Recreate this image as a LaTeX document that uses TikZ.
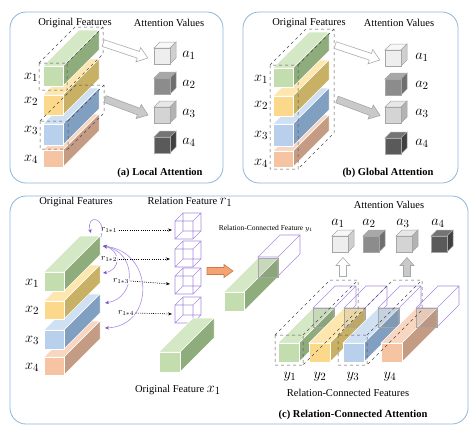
\documentclass[tikz,border=0pt]{standalone}
\usepackage{fontspec}
\setmainfont{Liberation Serif}
\usetikzlibrary{arrows.meta}
\definecolor{panel}{HTML}{8FB3D9}
\definecolor{gF}{HTML}{C3DDAE}\definecolor{gT}{HTML}{D5E8C5}\definecolor{gS}{HTML}{8FAD7C}
\definecolor{yF}{HTML}{FCD98A}\definecolor{yT}{HTML}{FDE7AE}\definecolor{yS}{HTML}{C8B064}
\definecolor{bF}{HTML}{B8D0EC}\definecolor{bT}{HTML}{D0E0F3}\definecolor{bS}{HTML}{819FC0}
\definecolor{oF}{HTML}{F6C3A3}\definecolor{oT}{HTML}{F9D6C0}\definecolor{oS}{HTML}{C49C84}
\definecolor{purp}{HTML}{A88CE0}\definecolor{purpd}{HTML}{7B52C6}
\definecolor{c1F}{HTML}{EEEEEE}\definecolor{c1T}{HTML}{F8F8F8}\definecolor{c1S}{HTML}{CFCFCF}
\definecolor{c2F}{HTML}{8C8C8C}\definecolor{c2T}{HTML}{A8A8A8}\definecolor{c2S}{HTML}{6E6E6E}
\definecolor{c3F}{HTML}{D4D4D4}\definecolor{c3T}{HTML}{E8E8E8}\definecolor{c3S}{HTML}{B3B3B3}
\definecolor{c4F}{HTML}{5A5A5A}\definecolor{c4T}{HTML}{747474}\definecolor{c4S}{HTML}{404040}
\definecolor{orA}{HTML}{F4A470}\definecolor{orB}{HTML}{C97A48}
% solid cuboid: x y w h depth front top side edge
\newcommand\bx[9]{%
 \filldraw[fill=#7,draw=#9,line width=0.5pt] (#1,#2) -- ++(#3,0) -- ++(#5,-#5) -- ++(-#3,0) -- cycle;
 \filldraw[fill=#8,draw=#9,line width=0.5pt] ({#1+#3},#2) -- ++(#5,-#5) -- ++(0,#4) -- ++(-#5,#5) -- cycle;
 \filldraw[fill=#6,draw=#9,line width=0.5pt] (#1,#2) rectangle ++(#3,#4);}
% visible edges of a cuboid: style x y w h depth
\newcommand\edgebox[6]{%
 \draw[#1] (#2,#3) rectangle ++(#4,#5)
   (#2,#3) -- ++(#6,-#6) -- ++(#4,0) -- ++(0,#5) -- ++(-#6,#6)
   ({#2+#4},#3) -- ++(#6,-#6);}
% full wireframe cuboid: x y size depth
\newcommand\fullbox[4]{%
 \draw[draw=purp,line width=0.6pt] (#1,#2) rectangle ++(#3,#3)
   ({#1+#4},{#2-#4}) rectangle ++(#3,#3)
   (#1,#2) -- ++(#4,-#4)
   ({#1+#3},#2) -- ++(#4,-#4)
   (#1,{#2+#3}) -- ++(#4,-#4)
   ({#1+#3},{#2+#3}) -- ++(#4,-#4);}
% block arrow: cx cy angle length shafthalf headhalf headlen style
\newcommand\barrow[8]{%
 \begin{scope}[shift={(#1,#2)},rotate=#3]
 \filldraw[#8] ({-#4/2},{-#5}) -- ({#4/2-#7},{-#5}) -- ({#4/2-#7},{-#6}) -- ({#4/2},0) -- ({#4/2-#7},{#6}) -- ({#4/2-#7},{#5}) -- ({-#4/2},{#5}) -- cycle;
 \end{scope}}
\begin{document}
\begin{tikzpicture}[x=1pt,y=-1pt,
 txt/.style={font=\fontsize{10.5}{12}\selectfont,inner sep=0pt},
 small/.style={font=\fontsize{7.5}{9}\selectfont,inner sep=0pt},
 ttl/.style={font=\fontsize{10.5}{12}\selectfont\bfseries,inner sep=0pt},
 lab/.style={font=\fontsize{15}{17}\selectfont,inner sep=0pt},
 rlab/.style={font=\fontsize{9}{10}\selectfont,inner sep=0.5pt,fill=white},
 pan/.style={draw=panel,line width=0.8pt,rounded corners=16pt},
 dbox/.style={dashed,draw=gray!60!black,line width=0.5pt},
 pbox/.style={draw=purp,line width=0.55pt},
 hollow/.style={fill=white,draw=gray!65,line width=0.6pt},
 grey/.style={fill=gray!42,draw=gray!70,line width=0.6pt},
 rel/.style={draw=purp,line width=0.6pt},
 dotar/.style={dash pattern=on 1pt off 1.2pt,line width=0.6pt,-{Stealth[length=4pt,width=3pt]}},
 ov/.style={fill=gray,fill opacity=0.15,draw=gray!70,line width=0.5pt}]
\useasboundingbox (0,0) rectangle (474,434);
% panels
\draw[pan] (10,12) rectangle (223,183);
\draw[pan] (243,12) rectangle (458,183);
\draw[pan] (10,196) rectangle (468,424);
%%%%%%%%%% (a)
\node[txt] (ta1) at (75,23) {Original Features};
\node[txt] (ta2) at (169,23) {Attention Values};
\bx{43}{150}{20}{17}{36}{oF}{oT}{oS}{white}
\bx{43}{124}{20}{21}{36}{bF}{bT}{bS}{white}
\bx{43}{95}{20}{20}{36}{yF}{yT}{yS}{white}
\bx{43}{66}{20}{20}{36}{gF}{gT}{gS}{white}
\edgebox{dbox}{39}{63}{28}{27}{36}
\edgebox{dbox}{40}{121}{28}{28}{36}
\node[lab] (xa1) at (31,77) {$x_1$};
\node[lab] (xa2) at (31,101) {$x_2$};
\node[lab] (xa3) at (31,130) {$x_3$};
\node[lab] (xa4) at (31,159) {$x_4$};
\barrow{125.5}{50.5}{-18.4}{47}{3.5}{7.5}{10}{hollow}
\barrow{126.5}{107}{-20.4}{46}{3.5}{7.5}{10}{grey}
\bx{154}{48}{16}{16}{6}{c1F}{c1T}{c1S}{gray!70}
\bx{154}{78}{16}{16}{6}{c2F}{c2T}{c2S}{gray!70}
\bx{154}{107}{16}{16}{6}{c3F}{c3T}{c3S}{gray!70}
\bx{154}{137}{16}{16}{6}{c4F}{c4T}{c4S}{gray!70}
\node[lab] (aa1) at (189,55) {$a_1$};
\node[lab] (aa2) at (189,84) {$a_2$};
\node[lab] (aa3) at (189,113) {$a_3$};
\node[lab] (aa4) at (189,142) {$a_4$};
\node[ttl] (tla) at (160,173) {(a) Local Attention};
%%%%%%%%%% (b)
\node[txt] (tb1) at (309,23) {Original Features};
\node[txt] (tb2) at (399,23) {Attention Values};
\bx{273}{151}{20}{16}{36}{oF}{oT}{oS}{white}
\bx{273}{124}{20}{22}{36}{bF}{bT}{bS}{white}
\bx{273}{96}{20}{20}{36}{yF}{yT}{yS}{white}
\bx{273}{68}{20}{19}{36}{gF}{gT}{gS}{white}
\edgebox{dbox}{270}{65}{28}{104}{36}
\node[lab] (xb1) at (261,79) {$x_1$};
\node[lab] (xb2) at (261,105) {$x_2$};
\node[lab] (xb3) at (261,135) {$x_3$};
\node[lab] (xb4) at (261,163) {$x_4$};
\barrow{357.5}{52.5}{-18.4}{47}{3.5}{7.5}{10}{hollow}
\barrow{358.5}{107.5}{-20.4}{46}{3.5}{7.5}{10}{grey}
\bx{385}{50}{16}{16}{6}{c1F}{c1T}{c1S}{gray!70}
\bx{385}{79}{16}{16}{6}{c2F}{c2T}{c2S}{gray!70}
\bx{385}{107}{16}{16}{6}{c3F}{c3T}{c3S}{gray!70}
\bx{385}{138}{16}{16}{6}{c4F}{c4T}{c4S}{gray!70}
\node[lab] (ab1) at (422,57) {$a_1$};
\node[lab] (ab2) at (422,85) {$a_2$};
\node[lab] (ab3) at (422,113) {$a_3$};
\node[lab] (ab4) at (422,143) {$a_4$};
\node[ttl] (tlb) at (388,173) {(b) Global Attention};
%%%%%%%%%% (c)
\node[txt] (tc1) at (76,202) {Original Features};
\node[txt] (tc2) at (190,202) {Relation Feature \fontsize{15}{17}\selectfont$r_1$};
\bx{44}{357}{20}{18}{36}{oF}{oT}{oS}{white}
\bx{44}{330}{20}{19}{36}{bF}{bT}{bS}{white}
\bx{44}{301}{20}{18}{36}{yF}{yT}{yS}{white}
\bx{44}{272}{20}{19}{36}{gF}{gT}{gS}{white}
\node[lab] (xc1) at (32,283) {$x_1$};
\node[lab] (xc2) at (32,310) {$x_2$};
\node[lab] (xc3) at (32,340) {$x_3$};
\node[lab] (xc4) at (32,367) {$x_4$};
% relation arcs
\coordinate (gA) at (103,246);
\coordinate (gL0) at (101,237);
\coordinate (gL1) at (91,233);
\coordinate (yA) at (103,273);
\coordinate (bA) at (105,303);
\coordinate (oA) at (105,328);
\draw[rel,-{Stealth[length=4pt,width=3.5pt,color=purpd]}] (gL0) .. controls (107,216) and (85,214) .. (gL1);
\draw[rel,{Stealth[length=4pt,width=3.5pt,color=purpd]}-{Stealth[length=4pt,width=3.5pt,color=purpd]}] (gA) .. controls (121,250) and (121,270) .. (yA);
\draw[rel,{Stealth[length=4pt,width=3.5pt,color=purpd]}-{Stealth[length=4pt,width=3.5pt,color=purpd]}] (gA) .. controls (137,252) and (137,298) .. (bA);
\draw[rel,{Stealth[length=4pt,width=3.5pt,color=purpd]}-{Stealth[length=4pt,width=3.5pt,color=purpd]}] (gA) .. controls (155,252) and (155,326) .. (oA);
\node[rlab] (r1) at (109,230) {$r_{1\ast1}$};
\node[rlab] (r2) at (109,259) {$r_{1\ast2}$};
\node[rlab] (r3) at (121,281) {$r_{1\ast3}$};
\node[rlab] (r4) at (126,313) {$r_{1\ast4}$};
% relation feature cubes
\fullbox{175}{221}{18}{8}
\fullbox{175}{249}{18}{8}
\fullbox{175}{276}{18}{8}
\fullbox{175}{305}{18}{8}
\coordinate (q1) at (172,230);
\coordinate (q2) at (170,259);
\coordinate (q3) at (170,284);
\coordinate (q4) at (172,314);
\draw[dotar] (r1.east) ++(1,0) -- (q1);
\draw[dotar] (r2.east) ++(1,0) -- (q2);
\draw[dotar] (r3.east) ++(1,0) -- (q3);
\draw[dotar] (r4.east) ++(1,0) -- (q4);
% original feature x1
\bx{159}{352}{21}{20}{34}{gF}{gT}{gS}{white}
\node[txt] (tc3) at (178,390) {Original Feature \fontsize{15}{17}\selectfont$x_1$};
% orange arrow
\barrow{220}{271}{0}{26}{3.5}{6.5}{9}{fill=orA,draw=orB,line width=0.6pt}
% relation-connected feature y1 illustration
\edgebox{pbox}{258}{257}{20}{19}{22}
\bx{224}{292}{20}{19}{34}{gF}{gT}{gS}{white}
\filldraw[ov] (258,258) rectangle ++(20,19);
\node[small] (tc4) at (266,229) {Relation-Connected Feature $y_1$};
% attention values (c)
\node[txt] (tc5) at (389,205) {Attention Values};
\bx{332}{236}{16}{16}{6}{c1F}{c1T}{c1S}{gray!70}
\bx{363}{236}{16}{16}{6}{c2F}{c2T}{c2S}{gray!70}
\bx{396}{236}{16}{16}{6}{c3F}{c3T}{c3S}{gray!70}
\bx{431}{236}{16}{16}{6}{c4F}{c4T}{c4S}{gray!70}
\node[lab] (ac1) at (338,223) {$a_1$};
\node[lab] (ac2) at (369,223) {$a_2$};
\node[lab] (ac3) at (403,223) {$a_3$};
\node[lab] (ac4) at (438,223) {$a_4$};
\barrow{343}{267}{90}{19}{3.5}{7}{8}{hollow}
\barrow{407}{267}{90}{19}{3.5}{7}{8}{grey}
% relation-connected features
\edgebox{pbox}{313}{308}{21}{19}{22}
\bx{278}{343}{21}{19}{35}{gF}{gT}{gS}{white}
\filldraw[ov] (313,308) rectangle ++(21,19);
\edgebox{pbox}{344}{308}{21}{19}{22}
\bx{309}{343}{21}{19}{35}{yF}{yT}{yS}{white}
\filldraw[ov] (344,308) rectangle ++(21,19);
\edgebox{pbox}{378}{308}{21}{19}{22}
\bx{343}{343}{21}{19}{35}{bF}{bT}{bS}{white}
\filldraw[ov] (378,308) rectangle ++(21,19);
\edgebox{pbox}{416}{308}{21}{19}{22}
\bx{381}{343}{21}{19}{35}{oF}{oT}{oS}{white}
\filldraw[ov] (416,308) rectangle ++(21,19);
\edgebox{dbox}{275}{335}{28}{30}{55}
\edgebox{dbox}{338}{335}{29}{30}{55}
\node[lab] (yc1) at (290,377) {$y_1$};
\node[lab] (yc2) at (320,377) {$y_2$};
\node[lab] (yc3) at (353,377) {$y_3$};
\node[lab] (yc4) at (390,377) {$y_4$};
\node[txt] (tc6) at (348,393) {Relation-Connected Features};
\node[ttl] (tlc) at (353,415) {(c) Relation-Connected Attention};
\end{tikzpicture}
\end{document}
